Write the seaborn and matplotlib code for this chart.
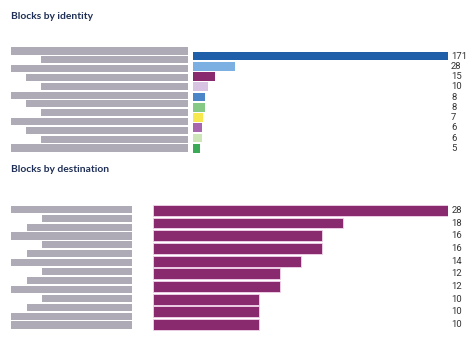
import matplotlib
matplotlib.use("Agg")
import matplotlib.pyplot as plt
import matplotlib.transforms as mtransforms
import seaborn as sns

# Values shown on the chart
identity_values = [171, 28, 15, 10, 8, 8, 7, 6, 6, 5]
identity_colors = ['#1F5FAA', '#7DB0E2', '#8A2A6E', '#D9C3E3', '#4A86C8',
                   '#86C987', '#F7E84E', '#A866AE', '#CDE6B8', '#3BAA57']
destination_values = [28, 18, 16, 16, 14, 12, 12, 10, 10, 10]

# Redacted category labels (relative length of each grey placeholder)
identity_label_lengths = [1.0, 0.83, 1.0, 0.915, 0.83, 1.0, 0.915, 0.83, 1.0, 0.915, 0.83, 1.0]
destination_label_lengths = [1.0, 0.745, 0.87, 1.0, 0.745, 0.87, 1.0, 0.745, 0.87,
                             1.0, 0.745, 0.87, 1.0, 1.0]

TITLE_COLOR = '#1F2F55'
GREY = '#AEABB6'

sns.set_theme(style='white')
plt.rcParams['font.family'] = ['Lato', 'DejaVu Sans']

W, H = 474, 361
fig = plt.figure(figsize=(W / 100, H / 100), dpi=100)


def px_axes(x0, x1, y0, y1):
    # axes placed from pixel box (top-left origin)
    return fig.add_axes([x0 / W, 1 - y1 / H, (x1 - x0) / W, (y1 - y0) / H])


def label_block(ax, lengths):
    cats = [str(i) for i in range(len(lengths))]
    sns.barplot(x=lengths, y=cats, orient='h', color=GREY, width=0.8,
                saturation=1, linewidth=0, ax=ax)
    ax.set_xlim(1, 0)
    ax.axis('off')


def value_block(ax, values, colors, edge, width, lw):
    cats = [str(i) for i in range(len(values))]
    sns.barplot(x=values, y=cats, hue=cats, palette=colors, legend=False,
                orient='h', width=width, saturation=1, edgecolor=edge,
                linewidth=lw, ax=ax)
    ax.set_xlim(0, max(values))
    ax.axis('off')
    trans = mtransforms.blended_transform_factory(ax.transAxes, ax.transData)
    for i, v in enumerate(values):
        ax.text(1.0 + 3 / ax.bbox.width, i, str(v), transform=trans,
                ha='left', va='center', fontsize=6.8, color='#333333',
                family=['Roboto', 'DejaVu Sans'])


# Blocks by identity
fig.text(11 / W, 1 - 16.5 / H, 'Blocks by identity', fontsize=7.4,
         fontweight='bold', color=TITLE_COLOR, va='center', ha='left')
label_block(px_axes(11, 188, 46.6, 152.4), identity_label_lengths)
value_block(px_axes(193, 448, 50.9, 153.4), identity_values, identity_colors,
            'white', 0.86, 0)

# Blocks by destination
fig.text(11 / W, 1 - 170 / H, 'Blocks by destination', fontsize=7.4,
         fontweight='bold', color=TITLE_COLOR, va='center', ha='left')
label_block(px_axes(11, 132, 204.85, 329.45), destination_label_lengths)
value_block(px_axes(153.3, 448.3, 204.0, 330.85), destination_values,
            ['#8A2A6E'] * len(destination_values), '#F2D4EC', 0.86, 0.6)

fig.savefig('out.png', dpi=100)
